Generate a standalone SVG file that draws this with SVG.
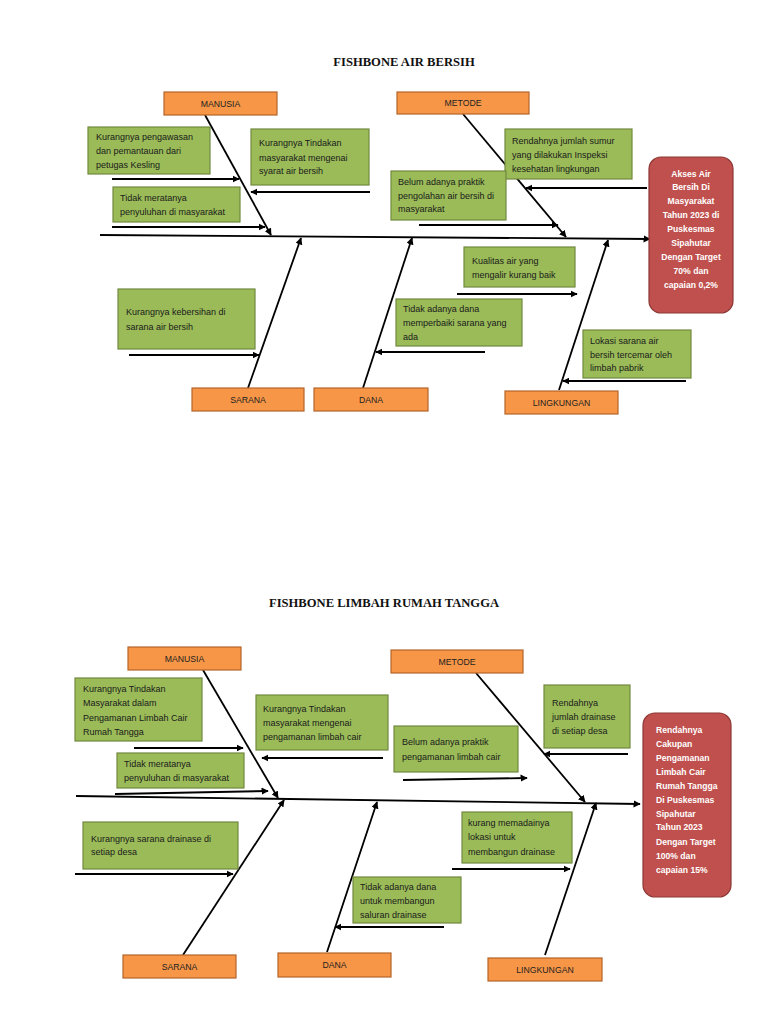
<svg xmlns="http://www.w3.org/2000/svg" width="768" height="1024" viewBox="0 0 768 1024">
<defs>
<marker id="ah" viewBox="0 0 10 10" refX="9" refY="5" markerWidth="4" markerHeight="4" orient="auto" markerUnits="strokeWidth">
<path d="M0,0 L10,5 L0,10 z" fill="#000"/>
</marker>
<style>
.title{font-family:"Liberation Serif",serif;font-weight:bold;font-size:12.6px;fill:#111;text-anchor:middle}
.cat rect{fill:#f79646;stroke:#b5652a;stroke-width:1.2}
.cat text{font-family:"Liberation Sans",Arial,sans-serif;font-size:8.7px;fill:#222;text-anchor:middle}
.cause rect{fill:#9bbb59;stroke:#71893f;stroke-width:1.2}
.cause text{font-family:"Liberation Sans",Arial,sans-serif;font-size:9px;fill:#1a1a1a}
.effect rect{fill:#c0504d;stroke:#8c3836;stroke-width:1.2}
.effect text{font-family:"Liberation Sans",Arial,sans-serif;font-size:8.6px;font-weight:bold;fill:#fff}
.conn line{stroke:#000;stroke-width:1.8;marker-end:url(#ah)}
</style>
</defs>
<rect width="768" height="1024" fill="#fff"/>

<text class="title" x="404" y="66">FISHBONE AIR BERSIH</text>
<text class="title" x="384" y="607">FISHBONE LIMBAH RUMAH TANGGA</text>

<!-- ===== Top diagram ===== -->
<g class="conn" id="connectors-top">
<line x1="100" y1="235" x2="650" y2="239"/>
<line x1="205" y1="115" x2="271" y2="235"/>
<line x1="463" y1="114" x2="566" y2="237"/>
<line x1="248" y1="388" x2="301" y2="238"/>
<line x1="363" y1="388" x2="412" y2="238"/>
<line x1="559" y1="390" x2="608" y2="240"/>
<line x1="112" y1="179" x2="239" y2="179"/>
<line x1="112" y1="227" x2="265" y2="227"/>
<line x1="370" y1="192" x2="251" y2="192"/>
<line x1="647" y1="188" x2="526" y2="188"/>
<line x1="419" y1="225" x2="558" y2="225"/>
<line x1="129" y1="355" x2="259" y2="355"/>
<line x1="457" y1="294" x2="577" y2="294"/>
<line x1="485" y1="352" x2="376" y2="352"/>
<line x1="686" y1="381" x2="563" y2="381"/>
</g>

<g class="cat" id="t-manusia"><rect x="164" y="92" width="113" height="23"/><text x="220.5" y="106.5">MANUSIA</text></g>
<g class="cat" id="t-metode"><rect x="397" y="92" width="132" height="22"/><text x="463" y="106">METODE</text></g>
<g class="cat" id="t-sarana"><rect x="192" y="388" width="112" height="23"/><text x="248" y="402.5">SARANA</text></g>
<g class="cat" id="t-dana"><rect x="314" y="388" width="114" height="23"/><text x="371" y="402.5">DANA</text></g>
<g class="cat" id="t-lingkungan"><rect x="505" y="391" width="113" height="23"/><text x="561.5" y="405.5">LINGKUNGAN</text></g>

<g class="cause" id="t-c1"><rect x="88" y="127" width="122" height="47"/>
<text x="96" y="140">Kurangnya pengawasan</text><text x="96" y="154">dan pemantauan dari</text><text x="96" y="168">petugas Kesling</text></g>
<g class="cause" id="t-c2"><rect x="251" y="129" width="118" height="56"/>
<text x="259" y="146">Kurangnya Tindakan</text><text x="259" y="161">masyarakat mengenai</text><text x="259" y="174">syarat air bersih</text></g>
<g class="cause" id="t-c3"><rect x="113" y="187" width="127" height="35"/>
<text x="120" y="201">Tidak meratanya</text><text x="120" y="215">penyuluhan di masyarakat</text></g>
<g class="cause" id="t-c4"><rect x="505" y="129" width="127" height="50"/>
<text x="512" y="144">Rendahnya jumlah sumur</text><text x="512" y="158">yang dilakukan Inspeksi</text><text x="512" y="172">kesehatan lingkungan</text></g>
<g class="cause" id="t-c5"><rect x="391" y="171" width="115" height="49"/>
<text x="398" y="185">Belum adanya praktik</text><text x="398" y="199">pengolahan air bersih di</text><text x="398" y="212">masyarakat</text></g>
<g class="cause" id="t-c6"><rect x="118" y="289" width="137" height="60"/>
<text x="126" y="315">Kurangnya kebersihan di</text><text x="126" y="330">sarana air bersih</text></g>
<g class="cause" id="t-c7"><rect x="464" y="247" width="111" height="40"/>
<text x="472" y="264">Kualitas air yang</text><text x="472" y="278">mengalir kurang baik</text></g>
<g class="cause" id="t-c8"><rect x="396" y="299" width="126" height="47"/>
<text x="403" y="312">Tidak adanya dana</text><text x="403" y="326">memperbaiki sarana yang</text><text x="403" y="340">ada</text></g>
<g class="cause" id="t-c9"><rect x="583" y="330" width="108" height="48"/>
<text x="590" y="344">Lokasi sarana air</text><text x="590" y="358">bersih tercemar oleh</text><text x="590" y="371">limbah pabrik</text></g>

<g class="effect" id="t-effect"><rect x="649" y="157" width="84" height="156" rx="12"/>
<g text-anchor="middle">
<text x="691" y="176.5">Akses Air</text><text x="691" y="190.4">Bersih Di</text><text x="691" y="204.3">Masyarakat</text><text x="691" y="218.2">Tahun 2023 di</text><text x="691" y="232.1">Puskesmas</text><text x="691" y="246">Sipahutar</text><text x="691" y="259.9">Dengan Target</text><text x="691" y="273.8">70% dan</text><text x="691" y="287.7">capaian 0,2%</text>
</g></g>

<!-- ===== Bottom diagram ===== -->
<g class="conn" id="connectors-bottom">
<line x1="76" y1="796" x2="640" y2="804"/>
<line x1="203" y1="670" x2="278" y2="798"/>
<line x1="476" y1="673" x2="585" y2="802"/>
<line x1="183" y1="955" x2="284" y2="800"/>
<line x1="327" y1="952" x2="377" y2="802"/>
<line x1="545" y1="955" x2="596" y2="803"/>
<line x1="134" y1="748" x2="243" y2="748"/>
<line x1="115" y1="794" x2="268" y2="791"/>
<line x1="383" y1="758" x2="262" y2="758"/>
<line x1="628" y1="754" x2="544" y2="754"/>
<line x1="403" y1="780" x2="527" y2="778"/>
<line x1="75" y1="874" x2="233" y2="874"/>
<line x1="452" y1="869" x2="570" y2="869"/>
<line x1="444" y1="927" x2="335" y2="927"/>
</g>

<g class="cat" id="b-manusia"><rect x="128" y="647" width="113" height="23"/><text x="184.5" y="661.5">MANUSIA</text></g>
<g class="cat" id="b-metode"><rect x="391" y="650" width="132" height="23"/><text x="457" y="664.5">METODE</text></g>
<g class="cat" id="b-sarana"><rect x="123" y="955" width="113" height="23"/><text x="179.5" y="969.5">SARANA</text></g>
<g class="cat" id="b-dana"><rect x="278" y="953" width="113" height="24"/><text x="334.5" y="968">DANA</text></g>
<g class="cat" id="b-lingkungan"><rect x="488" y="958" width="114" height="23"/><text x="545" y="972.5">LINGKUNGAN</text></g>

<g class="cause" id="b-c1"><rect x="75" y="678" width="127" height="63"/>
<text x="83" y="692">Kurangnya Tindakan</text><text x="83" y="706">Masyarakat dalam</text><text x="83" y="721">Pengamanan Limbah Cair</text><text x="83" y="735">Rumah Tangga</text></g>
<g class="cause" id="b-c2"><rect x="117" y="753" width="127" height="35"/>
<text x="124" y="767">Tidak meratanya</text><text x="124" y="781">penyuluhan di masyarakat</text></g>
<g class="cause" id="b-c3"><rect x="256" y="695" width="132" height="55"/>
<text x="263" y="712">Kurangnya Tindakan</text><text x="263" y="726">masyarakat mengenai</text><text x="263" y="740">pengamanan limbah cair</text></g>
<g class="cause" id="b-c4"><rect x="544" y="685" width="86" height="63"/>
<text x="552" y="706">Rendahnya</text><text x="552" y="720">jumlah drainase</text><text x="552" y="734">di setiap desa</text></g>
<g class="cause" id="b-c5"><rect x="394" y="726" width="124" height="46"/>
<text x="402" y="745">Belum adanya praktik</text><text x="402" y="760">pengamanan limbah cair</text></g>
<g class="cause" id="b-c6"><rect x="83" y="822" width="155" height="47"/>
<text x="91" y="842">Kurangnya sarana drainase di</text><text x="91" y="855">setiap desa</text></g>
<g class="cause" id="b-c7"><rect x="462" y="812" width="110" height="51"/>
<text x="468" y="826">kurang memadainya</text><text x="468" y="840">lokasi untuk</text><text x="468" y="855">membangun drainase</text></g>
<g class="cause" id="b-c8"><rect x="353" y="877" width="108" height="46"/>
<text x="360" y="890">Tidak adanya dana</text><text x="360" y="904">untuk membangun</text><text x="360" y="918">saluran drainase</text></g>

<g class="effect" id="b-effect"><rect x="643" y="713" width="88" height="184" rx="12"/>
<text x="656" y="732.5">Rendahnya</text><text x="656" y="746.5">Cakupan</text><text x="656" y="760.5">Pengamanan</text><text x="656" y="774.5">Limbah Cair</text><text x="656" y="788.5">Rumah Tangga</text><text x="656" y="802.5">Di Puskesmas</text><text x="656" y="816.5">Sipahutar</text><text x="656" y="830">Tahun 2023</text><text x="656" y="844.5">Dengan Target</text><text x="656" y="858.5">100% dan</text><text x="656" y="872.5">capaian 15%</text>
</g>
</svg>
